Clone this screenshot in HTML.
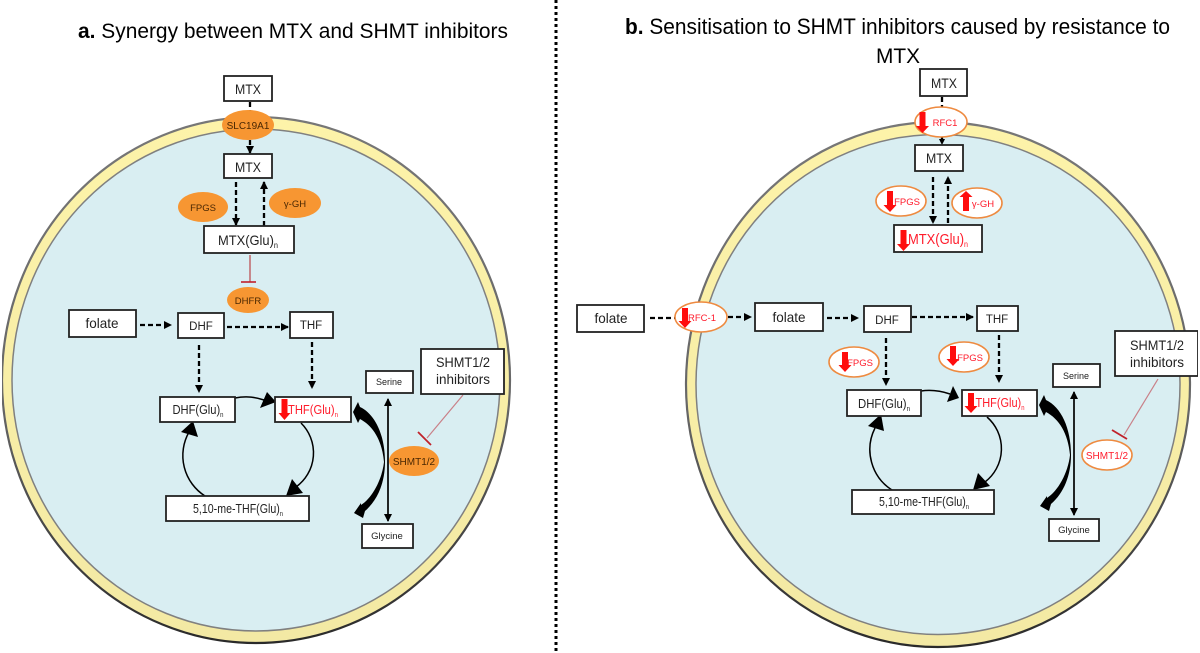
<!DOCTYPE html>
<html><head><meta charset="utf-8"><style>
html,body{margin:0;padding:0;background:#fff}
svg{display:block}
text{font-family:"Liberation Sans",sans-serif;text-anchor:middle;fill:#222}
.b{fill:#fff;stroke:#222;stroke-width:1.8}
.d{stroke:#000;stroke-width:2.3;stroke-dasharray:5 3;fill:none}
.s{stroke:#000;stroke-width:1.5;fill:none}
.o{fill:#f79633}
.ot{fill:#4a2804}
.w{fill:#fff;stroke:#ee8a3f;stroke-width:1.6}
.r{fill:#ff0f0f}
.rt{fill:#ff1a2c}
.k{fill:#000}
.t{fill:#000;text-anchor:start}
</style></head><body>
<svg width="1200" height="653" viewBox="0 0 1200 653" xmlns="http://www.w3.org/2000/svg">
<defs>
<filter id="bl" x="0" y="0" width="100%" height="100%"><feGaussianBlur stdDeviation="0.3"/></filter>
<linearGradient id="edge" x1="0" y1="0" x2="0" y2="1"><stop offset="0" stop-color="#777"/><stop offset="0.55" stop-color="#666"/><stop offset="1" stop-color="#2a2a2a"/></linearGradient>
<linearGradient id="mem" x1="0" y1="0" x2="0" y2="1"><stop offset="0" stop-color="#fdf3a9"/><stop offset="1" stop-color="#f3e9a4"/></linearGradient>
<marker id="h" markerWidth="7" markerHeight="7" refX="5" refY="3" orient="auto" markerUnits="userSpaceOnUse"><path d="M0,0L6,3L0,6Z"/></marker>
<marker id="h2" markerWidth="10" markerHeight="10" refX="7" refY="4" orient="auto" markerUnits="userSpaceOnUse"><path d="M0,0L8,4L0,8Z"/></marker>
<marker id="hs" markerWidth="10" markerHeight="10" refX="7" refY="4" orient="auto-start-reverse" markerUnits="userSpaceOnUse"><path d="M0,0L8,4L0,8Z"/></marker>
</defs>
<g filter="url(#bl)">

<!-- divider -->
<line x1="556" y1="0" x2="556" y2="653" stroke="#000" stroke-width="3" stroke-dasharray="3 3"/>

<!-- titles -->
<text class="t" x="78" y="38" font-size="21" textLength="430" lengthAdjust="spacingAndGlyphs"><tspan font-weight="bold">a.</tspan> Synergy between MTX and SHMT inhibitors</text>
<text class="t" x="625" y="34" font-size="22" textLength="545" lengthAdjust="spacingAndGlyphs"><tspan font-weight="bold">b.</tspan> Sensitisation to SHMT inhibitors caused by resistance to</text>
<text class="t" x="876" y="63" font-size="21" textLength="44" lengthAdjust="spacingAndGlyphs">MTX</text>

<!-- CELL A -->
<ellipse cx="256" cy="380" rx="254" ry="263" fill="url(#mem)" stroke="url(#edge)" stroke-width="2.2"/>
<ellipse cx="256" cy="380" rx="244" ry="251" fill="#d9eef2" stroke="#808080" stroke-width="1.5"/>

<line class="d" x1="250" y1="102" x2="250" y2="112"/>
<line class="d" x1="250" y1="140" x2="250" y2="153" marker-end="url(#h2)"/>
<line class="d" x1="236" y1="182" x2="236" y2="225" marker-end="url(#h2)"/>
<line class="d" x1="264" y1="226" x2="264" y2="182" marker-end="url(#h2)"/>
<line class="d" x1="140" y1="325" x2="171" y2="325" marker-end="url(#h2)"/>
<line class="d" x1="227" y1="327" x2="288" y2="327" marker-end="url(#h2)"/>
<line class="d" x1="199" y1="345" x2="199" y2="392" marker-end="url(#h2)"/>
<line class="d" x1="312" y1="342" x2="312" y2="388" marker-end="url(#h2)"/>
<line x1="250" y1="255" x2="250" y2="282" stroke="#b9454a" stroke-width="1.2"/>
<line x1="241" y1="282" x2="256" y2="282" stroke="#c0202a" stroke-width="1.6"/>
<line x1="463" y1="395" x2="427" y2="438" stroke="#c98088" stroke-width="1.2"/>
<line x1="418" y1="432" x2="431" y2="445" stroke="#c0202a" stroke-width="1.8"/>

<path class="s" d="M235,398Q250,395 264,400"/>
<path class="k" d="M267,392L276,402L260,408Z"/>
<path class="s" d="M301,423A42,42 0 0 1 296,487"/>
<path class="k" d="M292,479L303,493L286,496Z"/>
<path class="s" d="M205,496A48,48 0 0 1 189,432"/>
<path class="k" d="M193,421L198,437L181,432Z"/>
<path class="k" d="M353,412L358,402L360,407C375,414 385,435 385,462C385,482 378,500 365,511L363,518L354,513L361,503L361,505C372,498 382,480 384,462C382,440 373,426 360,419L358,423Z"/>
<line x1="388" y1="399" x2="388" y2="521" stroke="#000" stroke-width="1.7" marker-start="url(#hs)" marker-end="url(#hs)"/>

<rect class="b" x="224" y="76" width="48" height="25"/><text x="248" y="94" font-size="14" textLength="26" lengthAdjust="spacingAndGlyphs">MTX</text>
<ellipse class="o" cx="248" cy="125" rx="26" ry="15"/><text class="ot" x="248" y="129" font-size="10">SLC19A1</text>
<rect class="b" x="224" y="154" width="48" height="24"/><text x="248" y="172" font-size="14" textLength="26" lengthAdjust="spacingAndGlyphs">MTX</text>
<ellipse class="o" cx="203" cy="207" rx="25" ry="15"/><text class="ot" x="203" y="211" font-size="9.500">FPGS</text>
<ellipse class="o" cx="295" cy="203" rx="26" ry="15"/><text class="ot" x="295" y="207" font-size="9.500">γ-GH</text>
<rect class="b" x="204" y="226" width="90" height="27"/><text x="248" y="245" font-size="14" textLength="60" lengthAdjust="spacingAndGlyphs">MTX(Glu)<tspan font-size="8" dy="3">n</tspan></text>
<ellipse class="o" cx="248" cy="300" rx="21" ry="13"/><text class="ot" x="248" y="304" font-size="9.500">DHFR</text>
<rect class="b" x="69" y="310" width="67" height="27"/><text x="102" y="328" font-size="14" textLength="33" lengthAdjust="spacingAndGlyphs">folate</text>
<rect class="b" x="178" y="313" width="46" height="25"/><text x="201" y="330" font-size="11.500">DHF</text>
<rect class="b" x="290" y="312" width="43" height="26"/><text x="311" y="329" font-size="11.500">THF</text>
<rect class="b" x="160" y="397" width="75" height="25"/><text x="198" y="414" font-size="13" textLength="51" lengthAdjust="spacingAndGlyphs">DHF(Glu)<tspan font-size="7" dy="3">n</tspan></text>
<rect class="b" x="275" y="397" width="76" height="25"/><text class="rt" x="313" y="414" font-size="13" textLength="50" lengthAdjust="spacingAndGlyphs">THF(Glu)<tspan font-size="7" dy="3">n</tspan></text>
<path class="r" d="M281.500,399h6v14h3l-6,7l-6,-7h3z"/>
<rect class="b" x="166" y="496" width="143" height="25"/><text x="238" y="513" font-size="13" textLength="90" lengthAdjust="spacingAndGlyphs">5,10-me-THF(Glu)<tspan font-size="7" dy="3">n</tspan></text>
<rect class="b" x="366" y="371" width="47" height="22"/><text x="389" y="385" font-size="9">Serine</text>
<rect class="b" x="362" y="524" width="51" height="24"/><text x="387" y="539" font-size="9.500">Glycine</text>
<rect class="b" x="421" y="349" width="83" height="45"/><text x="463" y="367" font-size="14" textLength="54" lengthAdjust="spacingAndGlyphs">SHMT1/2</text><text x="463" y="384" font-size="14" textLength="54" lengthAdjust="spacingAndGlyphs">inhibitors</text>
<ellipse class="o" cx="414" cy="461" rx="25" ry="15"/><text class="ot" x="414" y="465" font-size="10">SHMT1/2</text>

<!-- CELL B -->
<ellipse cx="938" cy="384.500" rx="252" ry="262.500" fill="url(#mem)" stroke="url(#edge)" stroke-width="2.2"/>
<ellipse cx="938" cy="384.500" rx="242" ry="250" fill="#d9eef2" stroke="#808080" stroke-width="1.5"/>

<line class="d" x1="942" y1="97" x2="942" y2="107"/>
<line class="d" x1="942" y1="137" x2="942" y2="144" marker-end="url(#h)"/>
<line class="d" x1="933" y1="177" x2="933" y2="223" marker-end="url(#h2)"/>
<line class="d" x1="948" y1="223" x2="948" y2="177" marker-end="url(#h2)"/>
<line class="d" x1="650" y1="318" x2="675" y2="318"/>
<line class="d" x1="728" y1="317" x2="751" y2="317" marker-end="url(#h2)"/>
<line class="d" x1="827" y1="318" x2="858" y2="318" marker-end="url(#h2)"/>
<line class="d" x1="912" y1="317" x2="973" y2="317" marker-end="url(#h2)"/>
<line class="d" x1="886" y1="338" x2="886" y2="385" marker-end="url(#h2)"/>
<line class="d" x1="999" y1="335" x2="999" y2="382" marker-end="url(#h2)"/>
<line x1="1158" y1="379" x2="1124" y2="435" stroke="#c98088" stroke-width="1.2"/>
<line x1="1112" y1="430" x2="1127" y2="439" stroke="#c0202a" stroke-width="1.8"/>

<path class="s" d="M921,391Q935,389 950,394"/>
<path class="k" d="M953,386L959,398L947,402Z"/>
<path class="s" d="M987,417A42,42 0 0 1 985,482"/>
<path class="k" d="M978,473L990,486L973,490Z"/>
<path class="s" d="M892,490A48,48 0 0 1 875,428"/>
<path class="k" d="M881,414L884,431L868,426Z"/>
<path class="k" transform="translate(686,-7)" d="M353,412L358,402L360,407C375,414 385,435 385,462C385,482 378,500 365,511L363,518L354,513L361,503L361,505C372,498 382,480 384,462C382,440 373,426 360,419L358,423Z"/>
<line x1="1074" y1="392" x2="1074" y2="515" stroke="#000" stroke-width="1.7" marker-start="url(#hs)" marker-end="url(#hs)"/>

<rect class="b" x="920" y="69" width="47" height="27"/><text x="944" y="88" font-size="14" textLength="26" lengthAdjust="spacingAndGlyphs">MTX</text>
<ellipse class="w" cx="941" cy="122" rx="26" ry="15"/><text class="rt" x="945" y="126" font-size="9.500">RFC1</text>
<path class="r" d="M919.500,112h6v14h3.500l-6.500,7l-6.500,-7h3.500z"/>
<rect class="b" x="915" y="145" width="48" height="26"/><text x="939" y="163" font-size="14" textLength="26" lengthAdjust="spacingAndGlyphs">MTX</text>
<ellipse class="w" cx="901" cy="201" rx="25" ry="15"/><text class="rt" x="907" y="205" font-size="9.500">FPGS</text>
<path class="r" d="M887,191h6v14h3.500l-6.500,7l-6.500,-7h3.500z"/>
<ellipse class="w" cx="977" cy="203" rx="25" ry="15"/><text class="rt" x="983" y="207" font-size="9.500">γ-GH</text>
<path class="r" d="M963,211h6v-14h3.500l-6.500,-6l-6.500,6h3.500z"/>
<rect class="b" x="894" y="225" width="88" height="27"/><text class="rt" x="938" y="244" font-size="14.500" textLength="60" lengthAdjust="spacingAndGlyphs">MTX(Glu)<tspan font-size="8" dy="3">n</tspan></text>
<path class="r" d="M900.500,230h6v14h3.500l-6.500,7l-6.500,-7h3.500z"/>
<rect class="b" x="577" y="305" width="67" height="27"/><text x="611" y="323" font-size="14" textLength="33" lengthAdjust="spacingAndGlyphs">folate</text>
<ellipse class="w" cx="701" cy="317" rx="26" ry="15"/><text class="rt" x="702" y="321" font-size="9.500">RFC-1</text>
<path class="r" d="M682,308h6v13h3.500l-6.500,7l-6.500,-7h3.500z"/>
<rect class="b" x="755" y="303" width="68" height="28"/><text x="789" y="322" font-size="14" textLength="33" lengthAdjust="spacingAndGlyphs">folate</text>
<rect class="b" x="864" y="306" width="47" height="26"/><text x="887" y="324" font-size="11.500">DHF</text>
<rect class="b" x="977" y="306" width="41" height="25"/><text x="997" y="323" font-size="11.500">THF</text>
<ellipse class="w" cx="854" cy="362" rx="25" ry="15"/><text class="rt" x="860" y="366" font-size="9.500">FPGS</text>
<path class="r" d="M842,352h6v13h3.500l-6.500,7l-6.500,-7h3.500z"/>
<ellipse class="w" cx="964" cy="357" rx="25" ry="15"/><text class="rt" x="970" y="361" font-size="9.500">FPGS</text>
<path class="r" d="M950,346h6v13h3.500l-6.500,7l-6.500,-7h3.500z"/>
<rect class="b" x="847" y="390" width="74" height="26"/><text x="884" y="408" font-size="13" textLength="52" lengthAdjust="spacingAndGlyphs">DHF(Glu)<tspan font-size="7" dy="3">n</tspan></text>
<rect class="b" x="962" y="390" width="75" height="26"/><text class="rt" x="1000" y="407" font-size="13" textLength="49" lengthAdjust="spacingAndGlyphs">THF(Glu)<tspan font-size="7" dy="3">n</tspan></text>
<path class="r" d="M968,393h6v13h3.500l-6.500,7l-6.500,-7h3.500z"/>
<rect class="b" x="852" y="490" width="142" height="24"/><text x="924" y="506" font-size="13" textLength="90" lengthAdjust="spacingAndGlyphs">5,10-me-THF(Glu)<tspan font-size="7" dy="3">n</tspan></text>
<rect class="b" x="1053" y="364" width="47" height="23"/><text x="1076" y="379" font-size="9">Serine</text>
<rect class="b" x="1049" y="519" width="50" height="22"/><text x="1074" y="533" font-size="9.500">Glycine</text>
<rect class="b" x="1115" y="331" width="83" height="45"/><text x="1157" y="350" font-size="14" textLength="54" lengthAdjust="spacingAndGlyphs">SHMT1/2</text><text x="1157" y="367" font-size="14" textLength="54" lengthAdjust="spacingAndGlyphs">inhibitors</text>
<ellipse class="w" cx="1107" cy="455" rx="25" ry="15"/><text class="rt" x="1107" y="459" font-size="10">SHMT1/2</text>
</g>
</svg>
</body></html>
